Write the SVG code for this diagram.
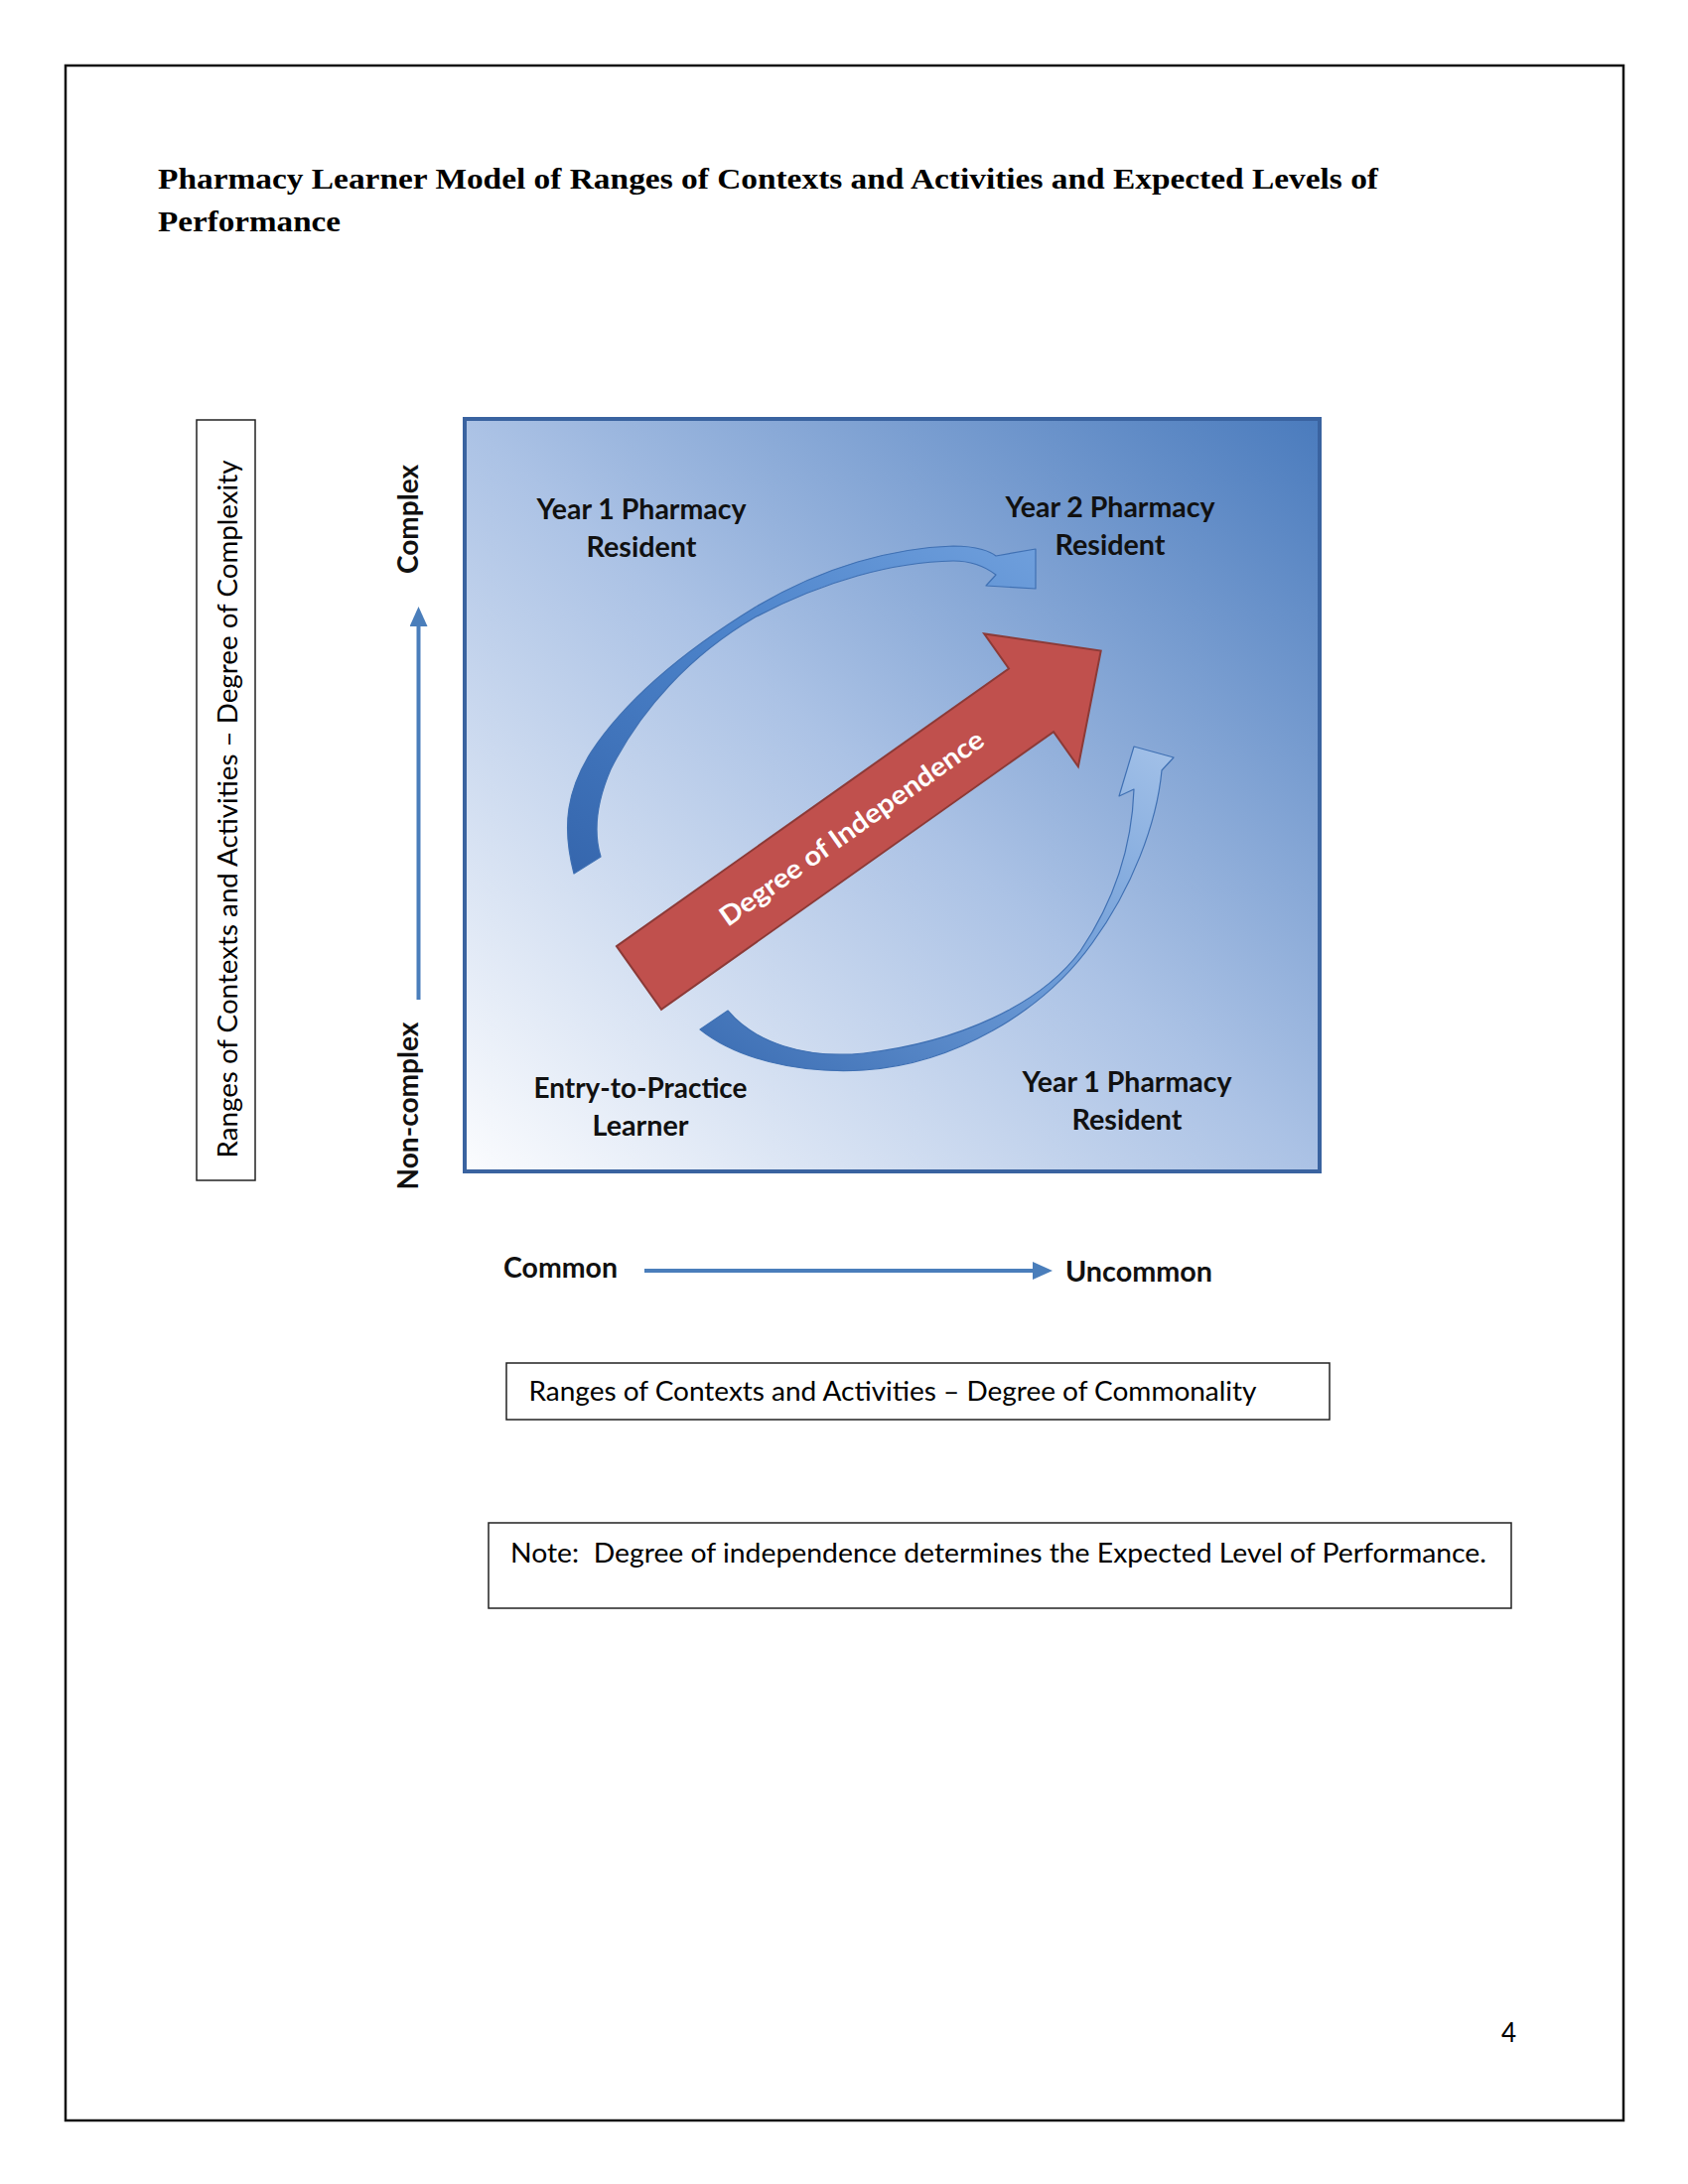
<svg xmlns="http://www.w3.org/2000/svg" width="1700" height="2200" viewBox="0 0 1700 2200">
<defs>
<style>
.title{font-family:"Liberation Serif","Times New Roman",serif;font-weight:bold;font-size:30px;fill:#000}
.lbl{font-family:Lato,"Open Sans",sans-serif;font-weight:bold;font-size:28px;fill:#111;text-anchor:middle}
.reg{font-family:Lato,"Open Sans",sans-serif;font-size:26px;fill:#000}
.box{fill:#fff;stroke:#222;stroke-width:1.5}
.axis{stroke:#4A7EBB;stroke-width:4;fill:none}
.arc{stroke:#3f70b3;stroke-width:1.2;stroke-linejoin:round}
</style>
<linearGradient id="bg" x1="0" y1="1" x2="1" y2="0">
<stop offset="0" stop-color="#fbfcfe"/>
<stop offset="0.5" stop-color="#abc2e5"/>
<stop offset="1" stop-color="#4a7bbd"/>
</linearGradient>
<linearGradient id="blueArc" x1="0" y1="1" x2="1" y2="0">
<stop offset="0" stop-color="#3566ad"/>
<stop offset="0.55" stop-color="#4d84cb"/>
<stop offset="1" stop-color="#6f9fdc"/>
</linearGradient>
<linearGradient id="blueArc2" x1="0" y1="1" x2="1" y2="0">
<stop offset="0" stop-color="#3a6cb2"/>
<stop offset="0.5" stop-color="#6b9ad6"/>
<stop offset="1" stop-color="#a3c1e8"/>
</linearGradient>
<marker id="tri" markerUnits="userSpaceOnUse" markerWidth="20" markerHeight="18" refX="0" refY="9" orient="auto">
<path d="M0,0 L20,9 L0,18 Z" fill="#4A7EBB"/>
</marker>
</defs>
<rect width="1700" height="2200" fill="#fff"/>
<rect id="page" x="66" y="66" width="1569" height="2070" fill="none" stroke="#111" stroke-width="2.5"/>
<g id="title">
<text class="title" x="159" y="190" textLength="1229" lengthAdjust="spacingAndGlyphs">Pharmacy Learner Model of Ranges of Contexts and Activities and Expected Levels of</text>
<text class="title" x="159" y="233" textLength="184" lengthAdjust="spacingAndGlyphs">Performance</text>
</g>
<g id="complexity-box">
<rect class="box" x="198" y="423" width="59" height="766"/>
<text class="reg" transform="translate(239,815) rotate(-90)" text-anchor="middle" textLength="703" lengthAdjust="spacingAndGlyphs">Ranges of Contexts and Activities – Degree of Complexity</text>
</g>
<g id="matrix">
<rect x="468" y="422" width="861" height="758" fill="url(#bg)" stroke="#3A63A0" stroke-width="4"/>
</g>
<g id="curved-arrows">
<path id="upper-arc" class="arc" fill="url(#blueArc)" d="M578,880 C565,830 572,795 595,758 C630,705 690,655 760,612 C830,570 900,552 960,550 C985,550 998,556 1003,560 L1043,553 L1043,593 L993,590 L1003,579 C990,569 975,565 960,565 C900,566 830,585 760,622 C695,660 645,715 615,775 C600,810 598,840 605,863 Z"/>
<path id="lower-arc" class="arc" fill="url(#blueArc2)" d="M705,1037 C740,1065 800,1082 870,1078 C960,1072 1050,1020 1100,950 C1140,895 1165,830 1170,776 L1182,763 L1142,752 L1127,802 L1142,795 C1140,852 1122,908 1088,958 C1048,1012 965,1050 870,1061 C810,1067 760,1050 733,1018 Z"/>
</g>
<g id="independence-arrow" transform="translate(643.5,985) rotate(-35.3)">
<polygon points="0,-39 484,-39 484,-82 570,0 484,82 484,39 0,39" fill="#C0504D" stroke="#8C3A37" stroke-width="2"/>
<text x="262" y="10" font-family="Lato,'Open Sans',sans-serif" font-weight="bold" font-size="27" fill="#fff" text-anchor="middle" textLength="319" lengthAdjust="spacingAndGlyphs">Degree of Independence</text>
</g>
<g id="node-y1-top">
<text class="lbl" x="646" y="523" textLength="211" lengthAdjust="spacingAndGlyphs">Year 1 Pharmacy</text>
<text class="lbl" x="646" y="561" textLength="111" lengthAdjust="spacingAndGlyphs">Resident</text>
</g>
<g id="node-y2">
<text class="lbl" x="1118" y="521" textLength="211" lengthAdjust="spacingAndGlyphs">Year 2 Pharmacy</text>
<text class="lbl" x="1118" y="559" textLength="111" lengthAdjust="spacingAndGlyphs">Resident</text>
</g>
<g id="node-entry">
<text class="lbl" x="645" y="1106" textLength="215" lengthAdjust="spacingAndGlyphs">Entry-to-Practice</text>
<text class="lbl" x="645" y="1144" textLength="97" lengthAdjust="spacingAndGlyphs">Learner</text>
</g>
<g id="node-y1-bottom">
<text class="lbl" x="1135" y="1100" textLength="211" lengthAdjust="spacingAndGlyphs">Year 1 Pharmacy</text>
<text class="lbl" x="1135" y="1138" textLength="111" lengthAdjust="spacingAndGlyphs">Resident</text>
</g>
<g id="connectors">
<line class="axis" x1="421.5" y1="1007" x2="421.5" y2="631" marker-end="url(#tri)"/>
<line class="axis" x1="649" y1="1280" x2="1040" y2="1280" marker-end="url(#tri)"/>
</g>
<g id="axis-labels">
<text class="lbl" transform="translate(421,523) rotate(-90)" textLength="110" lengthAdjust="spacingAndGlyphs">Complex</text>
<text class="lbl" transform="translate(421,1114) rotate(-90)" textLength="169" lengthAdjust="spacingAndGlyphs">Non-complex</text>
<text class="lbl" x="507" y="1287" style="text-anchor:start" textLength="115" lengthAdjust="spacingAndGlyphs">Common</text>
<text class="lbl" x="1073" y="1291" style="text-anchor:start" textLength="148" lengthAdjust="spacingAndGlyphs">Uncommon</text>
</g>
<g id="commonality-box">
<rect class="box" x="510" y="1373" width="829" height="57"/>
<text class="reg" x="532.5" y="1411" textLength="733" lengthAdjust="spacingAndGlyphs">Ranges of Contexts and Activities – Degree of Commonality</text>
</g>
<g id="note-box">
<rect class="box" x="492" y="1534" width="1030" height="86"/>
<text class="reg" x="514" y="1574" textLength="983" lengthAdjust="spacingAndGlyphs" xml:space="preserve">Note:  Degree of independence determines the Expected Level of Performance.</text>
</g>
<text id="page-number" class="reg" x="1512" y="2057" font-size="27">4</text>
</svg>
